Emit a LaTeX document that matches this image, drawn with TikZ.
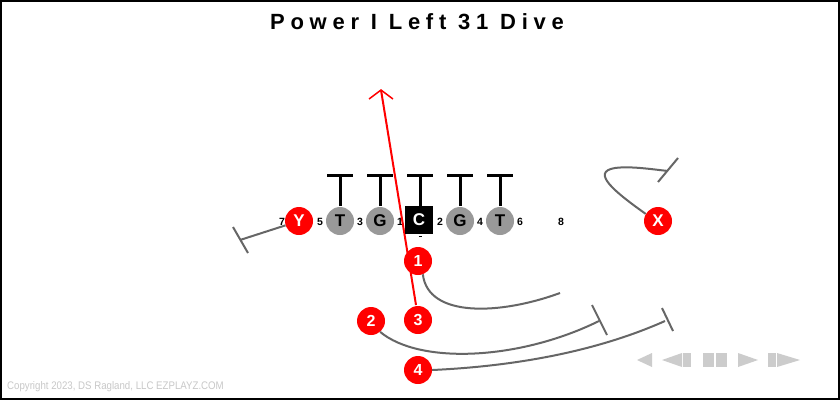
\documentclass[tikz,border=0pt]{standalone}
\usepackage{fontspec}
\setmainfont{Liberation Sans}
\begin{document}
\begin{tikzpicture}[x=1pt,y=-1pt,
  redp/.style={circle,fill=red,minimum size=28pt,inner sep=0pt,text=white,font=\bfseries\fontsize{17}{17}\selectfont},
  numc/.style={circle,fill=red,minimum size=28pt,inner sep=0pt,text=white,font=\bfseries\fontsize{16}{16}\selectfont},
  grayp/.style={circle,fill={rgb,255:red,153;green,153;blue,153},minimum size=28pt,inner sep=0pt,text=black,font=\bfseries\fontsize{17}{17}\selectfont},
  center/.style={rectangle,fill=black,minimum size=28pt,inner sep=0pt,text=white,font=\bfseries\fontsize{17}{17}\selectfont},
  holenum/.style={inner sep=0pt,font=\bfseries\fontsize{10.5}{10.5}\selectfont},
  route/.style={draw={rgb,255:red,102;green,102;blue,102},line width=2pt},
  blockline/.style={draw=black,line width=3pt},
  ctrl/.style={fill={rgb,255:red,204;green,204;blue,204},draw=none}]
\useasboundingbox (0,0) rectangle (840,400);
\fill[white] (0,0) rectangle (840,400);
\draw[black,line width=2pt] (1,1) rectangle (839,399);

\node[anchor=base west,inner sep=0pt,font=\fontsize{22}{22}\selectfont\bfseries\addfontfeatures{LetterSpace=26}] (title) at (270,29) {Power I Left 31 Dive};

% hole numbers
\node[holenum] (h7) at (282,222) {7};
\node[holenum] (h5) at (320,222) {5};
\node[holenum] (h3) at (360,222) {3};
\node[holenum] (h1) at (400,222) {1};
\node[holenum] (h2) at (440,222) {2};
\node[holenum] (h4) at (480,222) {4};
\node[holenum] (h6) at (520,222) {6};
\node[holenum] (h8) at (561,222) {8};

% red run line (behind players)
\coordinate (tip) at (381,90);
\coordinate (wl) at (369,99);
\coordinate (wr) at (393,99);
\coordinate (runstart) at (416,305);
\draw[red,line width=2pt] (runstart) -- (tip);
\draw[red,line width=1.5pt] (wl) -- (tip) -- (wr);

% blocks for linemen
\foreach \x/\n in {340/a,380/b,420/c,460/d,500/e}{
  \coordinate (bt\n) at (\x,175);
  \coordinate (bb\n) at (\x,206);
  \coordinate (bl\n) at (\x-13,175);
  \coordinate (br\n) at (\x+13,175);
  \draw[blockline] (bb\n) -- (bt\n);
  \draw[blockline] (bl\n) -- (br\n);
}

% players
\node[redp] (Y) at (299,221) {Y};
\node[grayp] (LT) at (340,221) {T};
\node[grayp] (LG) at (380,221) {G};
\node[center] (C) at (419,220) {C};
\node[grayp] (RG) at (460,221) {G};
\node[grayp] (RT) at (500,221) {T};
\node[redp] (X) at (658,221) {X};
\coordinate (ballA) at (418.5,236.5);
\coordinate (ballB) at (421.5,236.5);
\draw[black,line width=1pt] (ballA) -- (ballB);

% Y route
\coordinate (yend) at (240,240);
\coordinate (yb1) at (233,227);
\coordinate (yb2) at (248,253);
\draw[route] (Y) -- (yend);
\draw[route] (yb1) -- (yb2);

% X route
\coordinate (xend) at (668,171);
\coordinate (xb1) at (658,182);
\coordinate (xb2) at (678,158);
\draw[route] (X.150) .. controls (615,192) and (590,172) .. (615,168) .. controls (630,166) and (650,169) .. (xend);
\draw[route] (xb1) -- (xb2);

% backs
\node[numc] (B1) at (418,261) {1};
\node[numc] (B2) at (371,321) {2};
\node[numc] (B3) at (418,320) {3};
\node[numc] (B4) at (418,370) {4};

% route 1
\coordinate (r1end) at (560,293);
\draw[route] (B1.-70) .. controls (428,318) and (500,315) .. (r1end);
% route 2
\coordinate (r2end) at (599,321);
\coordinate (r2b1) at (592,305);
\coordinate (r2b2) at (607,335);
\draw[route] (B2.-50) .. controls (420,365) and (520,360) .. (r2end);
\draw[route] (r2b1) -- (r2b2);
% route 4
\coordinate (r4end) at (665,321);
\coordinate (r4b1) at (662,308);
\coordinate (r4b2) at (673,331);
\draw[route] (B4.east) .. controls (520,366) and (600,350) .. (r4end);
\draw[route] (r4b1) -- (r4b2);

% player controls
\fill[ctrl] (637,360) -- (652,353) -- (652,367) -- cycle;
\fill[ctrl] (662,360) -- (682,353) -- (682,367) -- cycle;
\fill[ctrl] (683,353) rectangle (691,367);
\fill[ctrl] (703,353) rectangle (714,367);
\fill[ctrl] (716,353) rectangle (727,367);
\fill[ctrl] (738,353) -- (758,360) -- (738,367) -- cycle;
\fill[ctrl] (768,353) rectangle (776,367);
\fill[ctrl] (777,353) -- (800,360) -- (777,367) -- cycle;

% copyright
\node[anchor=base west,inner sep=0pt,xscale=0.88,text={rgb,255:red,200;green,200;blue,200},font=\fontsize{11}{11}\selectfont] (copy) at (7,389) {Copyright 2023, DS Ragland, LLC EZPLAYZ.COM};
\end{tikzpicture}
\end{document}
